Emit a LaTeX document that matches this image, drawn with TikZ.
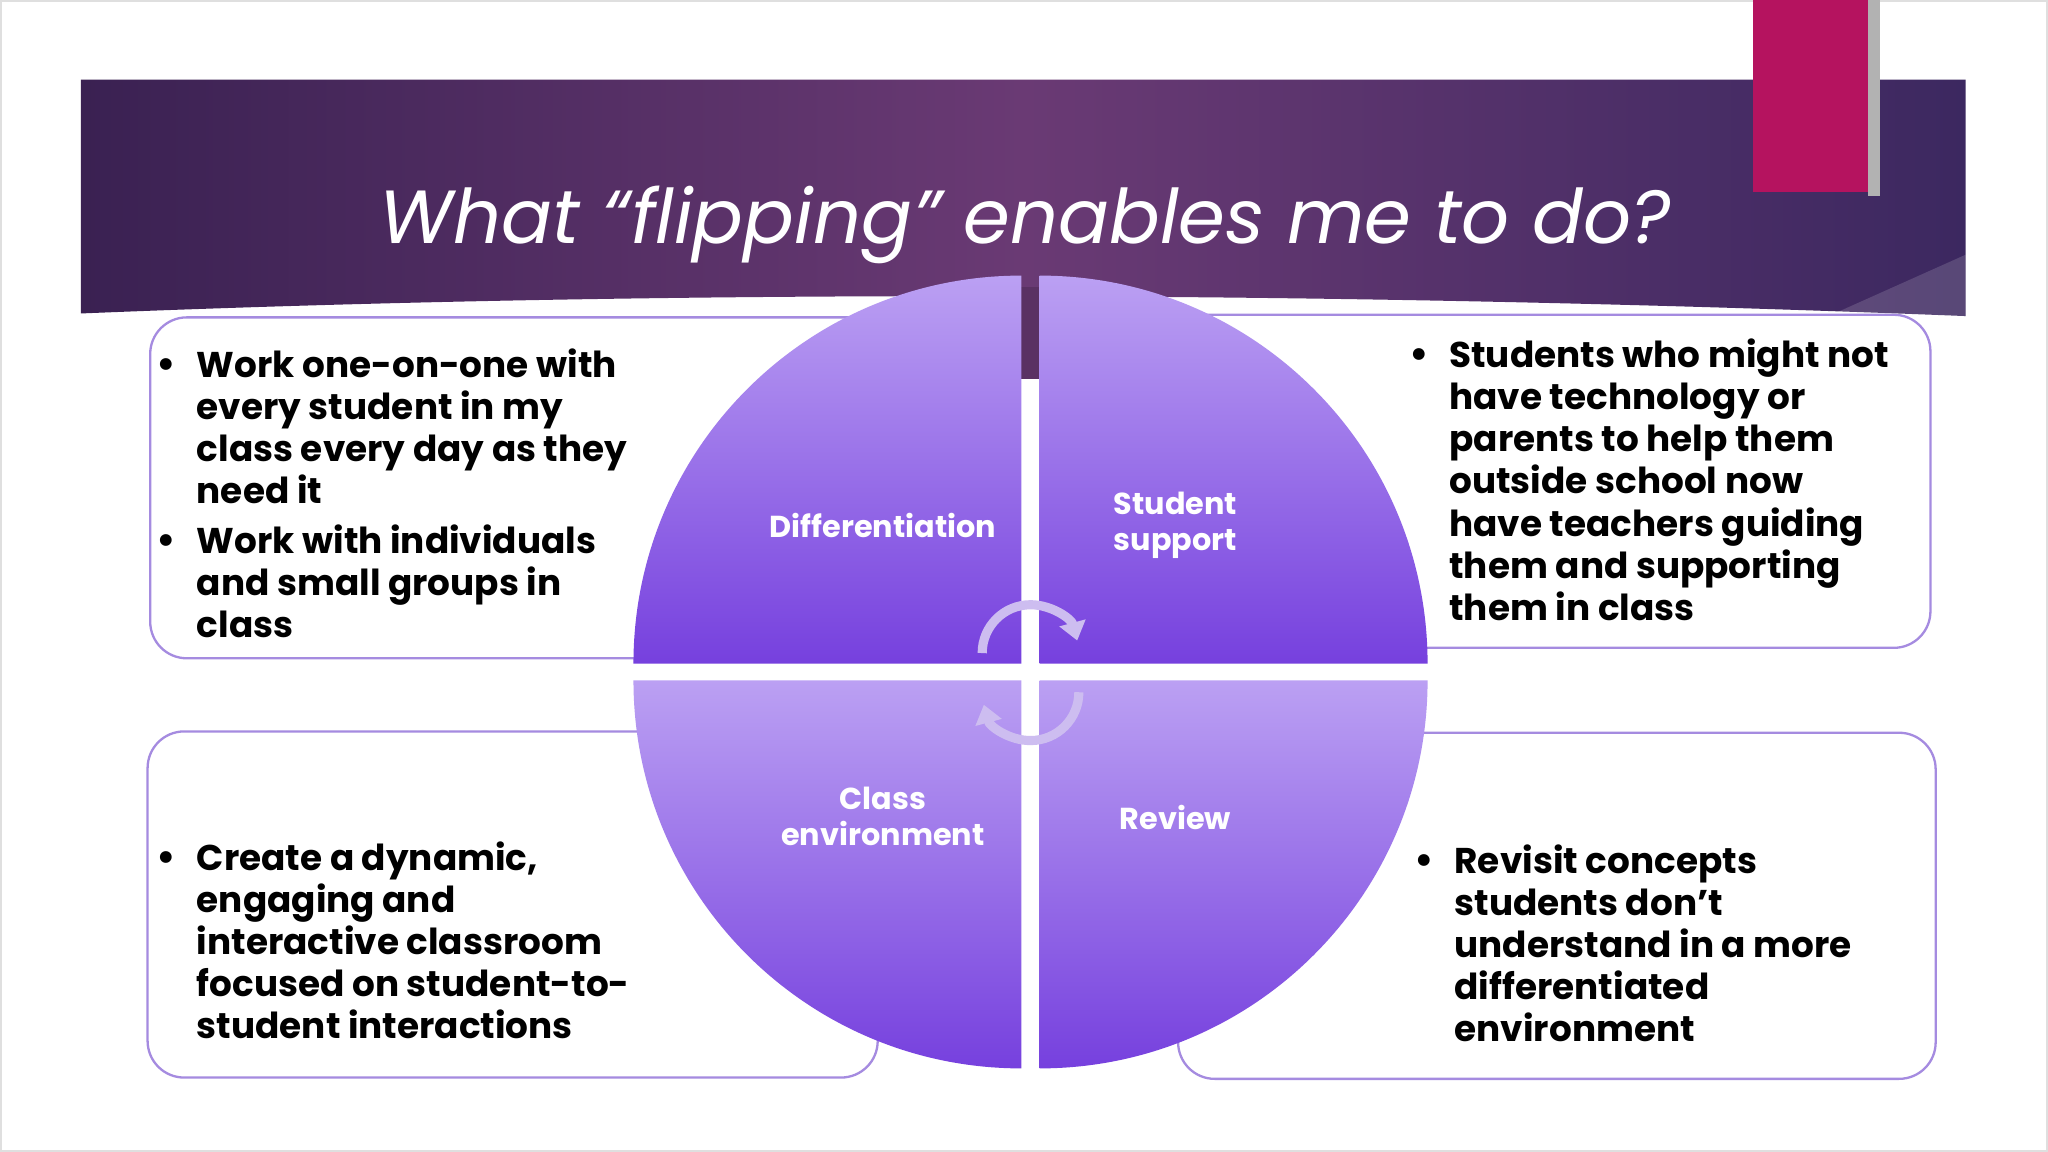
\documentclass[tikz,border=0pt]{standalone}
\usepackage{fontspec}
\setmainfont{Poppins}
\usetikzlibrary{arrows.meta}
\definecolor{bandL}{HTML}{3A2152}
\definecolor{bandM}{HTML}{6A3A74}
\definecolor{bandR}{HTML}{3C2860}
\definecolor{qtop}{HTML}{BBA0F3}
\definecolor{qbot}{HTML}{7640DE}
\definecolor{boxline}{HTML}{A58BE0}
\definecolor{mag}{HTML}{B5135F}
\definecolor{arr}{HTML}{CDBDF0}
\newcommand{\bl}{\makebox[0pt][r]{\fontsize{8.5}{9}\selectfont•\hspace{4.5pt}}}
\tikzset{
 txtbox/.style={draw=boxline,line width=0.5pt,fill=white,rounded corners=0.28cm},
 body/.style={anchor=north west,align=left,inner sep=0pt,font=\fontsize{7.8}{9.15}\selectfont\bfseries},
 qlabel/.style={text=white,align=center,font=\fontsize{6.6}{7.9}\selectfont\bfseries},
 carrow/.style={arr,line width=0.07cm,-{Triangle[length=0.14cm,width=0.2cm]}}
}
\begin{document}
\begin{tikzpicture}[x=0.01cm,y=0.01cm]
\useasboundingbox (0,0) rectangle (1568,-882);
\fill[white] (0,0) rectangle (1568,-882);
\draw[gray!25] (1,-1) rectangle (1567,-881);
% banner
\shade[left color=bandL,right color=bandR,middle color=bandM]
 (62,-61) -- (1505,-61) -- (1505,-242) .. controls (1000,-222) and (500,-222) .. (62,-240) -- cycle;
\fill[white,opacity=0.15] (1400,-242) -- (1505,-195) -- (1505,-242) -- cycle;
% magenta block
\fill[gray!60] (1430,0) rectangle (1439,-150);
\fill[mag] (1342,0) rectangle (1430,-147);
\node[text=white,font=\fontsize{16.4}{18}\selectfont\itshape] (title) at (785,-172) {What “flipping” enables me to do?};
% boxes
\draw[txtbox] (115,-243) rectangle (700,-504);
\draw[txtbox] (880,-241) rectangle (1478,-496);
\draw[txtbox] (113,-560) rectangle (672,-825);
\draw[txtbox] (902,-561) rectangle (1482,-826);
\fill[bandM!85!black] (781,-220) rectangle (797,-290);
% quadrants
\shade[top color=qtop,bottom color=qbot] (782,-508) -- ++(90:297) arc[start angle=90,end angle=180,radius=297] -- cycle;
\shade[top color=qtop,bottom color=qbot] (796,-508) -- ++(0:297) arc[start angle=0,end angle=90,radius=297] -- cycle;
\shade[top color=qtop,bottom color=qbot] (782,-521) -- ++(180:297) arc[start angle=180,end angle=270,radius=297] -- cycle;
\shade[top color=qtop,bottom color=qbot] (796,-521) -- ++(270:297) arc[start angle=270,end angle=360,radius=297] -- cycle;
\node[qlabel] (q1) at (676,-402) {Differentiation};
\node[qlabel] (q2) at (900,-402) {Student\\support};
\node[qlabel] (q3) at (676,-625) {Class\\environment};
\node[qlabel] (q4) at (900,-626) {Review};
% cycle arrows
\draw[carrow] (752,-500) arc[start angle=180,end angle=15,radius=37];
\draw[carrow] (826,-530) arc[start angle=0,end angle=-165,radius=37];
% texts
\node[body] (t1) at (150,-266) {\bl Work one-on-one with\\every student in my\\class every day as they\\need it};
\node[body] (t2) at (150,-401) {\bl Work with individuals\\and small groups in\\class};
\node[body] (t3) at (1109,-259) {\bl Students who might not\\have technology or\\parents to help them\\outside school now\\have teachers guiding\\them and supporting\\them in class};
\node[body] (t4) at (150,-644) {\bl Create a dynamic,\\engaging and\\interactive classroom\\focused on student-to-\\student interactions};
\node[body] (t5) at (1113,-646) {\bl Revisit concepts\\students don’t\\understand in a more\\differentiated\\environment};
\end{tikzpicture}
\end{document}
